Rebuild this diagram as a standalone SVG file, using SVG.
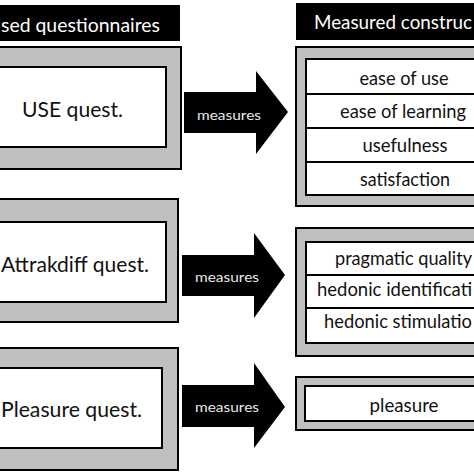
<svg xmlns="http://www.w3.org/2000/svg" width="474" height="474" viewBox="0 0 474 474">
<style>
text{font-family:Lato,"Open Sans","Liberation Sans",sans-serif;}
.hdr{fill:#000;}
.hdrt{fill:#fff;font-size:19px;}
.outer{fill:#bfbfbf;stroke:#000;stroke-width:2;}
.inner{fill:#fff;stroke:#000;stroke-width:2;}
.qt{fill:#111;font-size:22px;}
.rt{fill:#111;font-size:20px;}
.arrow{fill:#000;}
.at{fill:#e8e8e8;font-size:14px;}
</style>
<rect width="474" height="474" fill="#fff"/>
<g id="header-left">
<rect class="hdr" x="-1" y="5" width="181" height="36"/>
<text class="hdrt" x="1" y="32" textLength="159" lengthAdjust="spacingAndGlyphs">sed questionnaires</text>
</g>
<g id="header-right">
<rect class="hdr" x="296" y="3" width="179" height="37"/>
<text class="hdrt" x="314" y="29" textLength="158" lengthAdjust="spacingAndGlyphs">Measured construc</text>
</g>
<g id="use-quest">
<rect class="outer" x="-1" y="47" width="182" height="122"/>
<rect class="inner" x="-1" y="67" width="167" height="80"/>
<text class="qt" x="22" y="117" textLength="101" lengthAdjust="spacingAndGlyphs">USE quest.</text>
</g>
<g id="attrakdiff-quest">
<rect class="outer" x="-1" y="199" width="179" height="123"/>
<rect class="inner" x="-1" y="222" width="167" height="80"/>
<text class="qt" x="1" y="272" textLength="148" lengthAdjust="spacingAndGlyphs">Attrakdiff quest.</text>
</g>
<g id="pleasure-quest">
<rect class="outer" x="-1" y="348" width="179" height="122"/>
<rect class="inner" x="-1" y="368" width="163" height="80"/>
<text class="qt" x="1" y="417" textLength="141" lengthAdjust="spacingAndGlyphs">Pleasure quest.</text>
</g>
<g id="connectors">
<polygon class="arrow" points="184,92 256,92 256,71 288,112 256,154 256,133 184,133"/>
<text class="at" x="197" y="120" textLength="64" lengthAdjust="spacingAndGlyphs">measures</text>
<polygon class="arrow" points="182,255 254,255 254,233 285,275 254,318 254,296 182,296"/>
<text class="at" x="195" y="282" textLength="64" lengthAdjust="spacingAndGlyphs">measures</text>
<polygon class="arrow" points="182,385 254,385 254,363 285,407 254,448 254,427 182,427"/>
<text class="at" x="195" y="412" textLength="64" lengthAdjust="spacingAndGlyphs">measures</text>
</g>
<g id="use-constructs">
<rect class="outer" x="296" y="47" width="179" height="159"/>
<rect class="inner" x="306" y="59" width="169" height="35"/>
<rect class="inner" x="306" y="94" width="169" height="34"/>
<rect class="inner" x="306" y="128" width="169" height="34"/>
<rect class="inner" x="306" y="162" width="169" height="33"/>
<text class="rt" x="404" y="85" text-anchor="middle" textLength="89" lengthAdjust="spacingAndGlyphs">ease of use</text>
<text class="rt" x="403" y="118" text-anchor="middle" textLength="126" lengthAdjust="spacingAndGlyphs">ease of learning</text>
<text class="rt" x="405" y="152" text-anchor="middle" textLength="85" lengthAdjust="spacingAndGlyphs">usefulness</text>
<text class="rt" x="405" y="186" text-anchor="middle" textLength="90" lengthAdjust="spacingAndGlyphs">satisfaction</text>
</g>
<g id="attrakdiff-constructs">
<rect class="outer" x="296" y="228" width="179" height="128"/>
<rect class="inner" x="306" y="242" width="169" height="33"/>
<rect class="inner" x="306" y="275" width="169" height="33"/>
<rect class="inner" x="306" y="308" width="169" height="35"/>
<text class="rt" x="335" y="265" textLength="137" lengthAdjust="spacingAndGlyphs">pragmatic quality</text>
<text class="rt" x="317" y="296" textLength="155" lengthAdjust="spacingAndGlyphs">hedonic identificati</text>
<text class="rt" x="324" y="328" textLength="148" lengthAdjust="spacingAndGlyphs">hedonic stimulatio</text>
</g>
<g id="pleasure-constructs">
<rect class="outer" x="296" y="377" width="179" height="53"/>
<rect class="inner" x="305" y="386" width="170" height="35"/>
<text class="rt" x="404" y="412" text-anchor="middle" textLength="69" lengthAdjust="spacingAndGlyphs">pleasure</text>
</g>
</svg>
